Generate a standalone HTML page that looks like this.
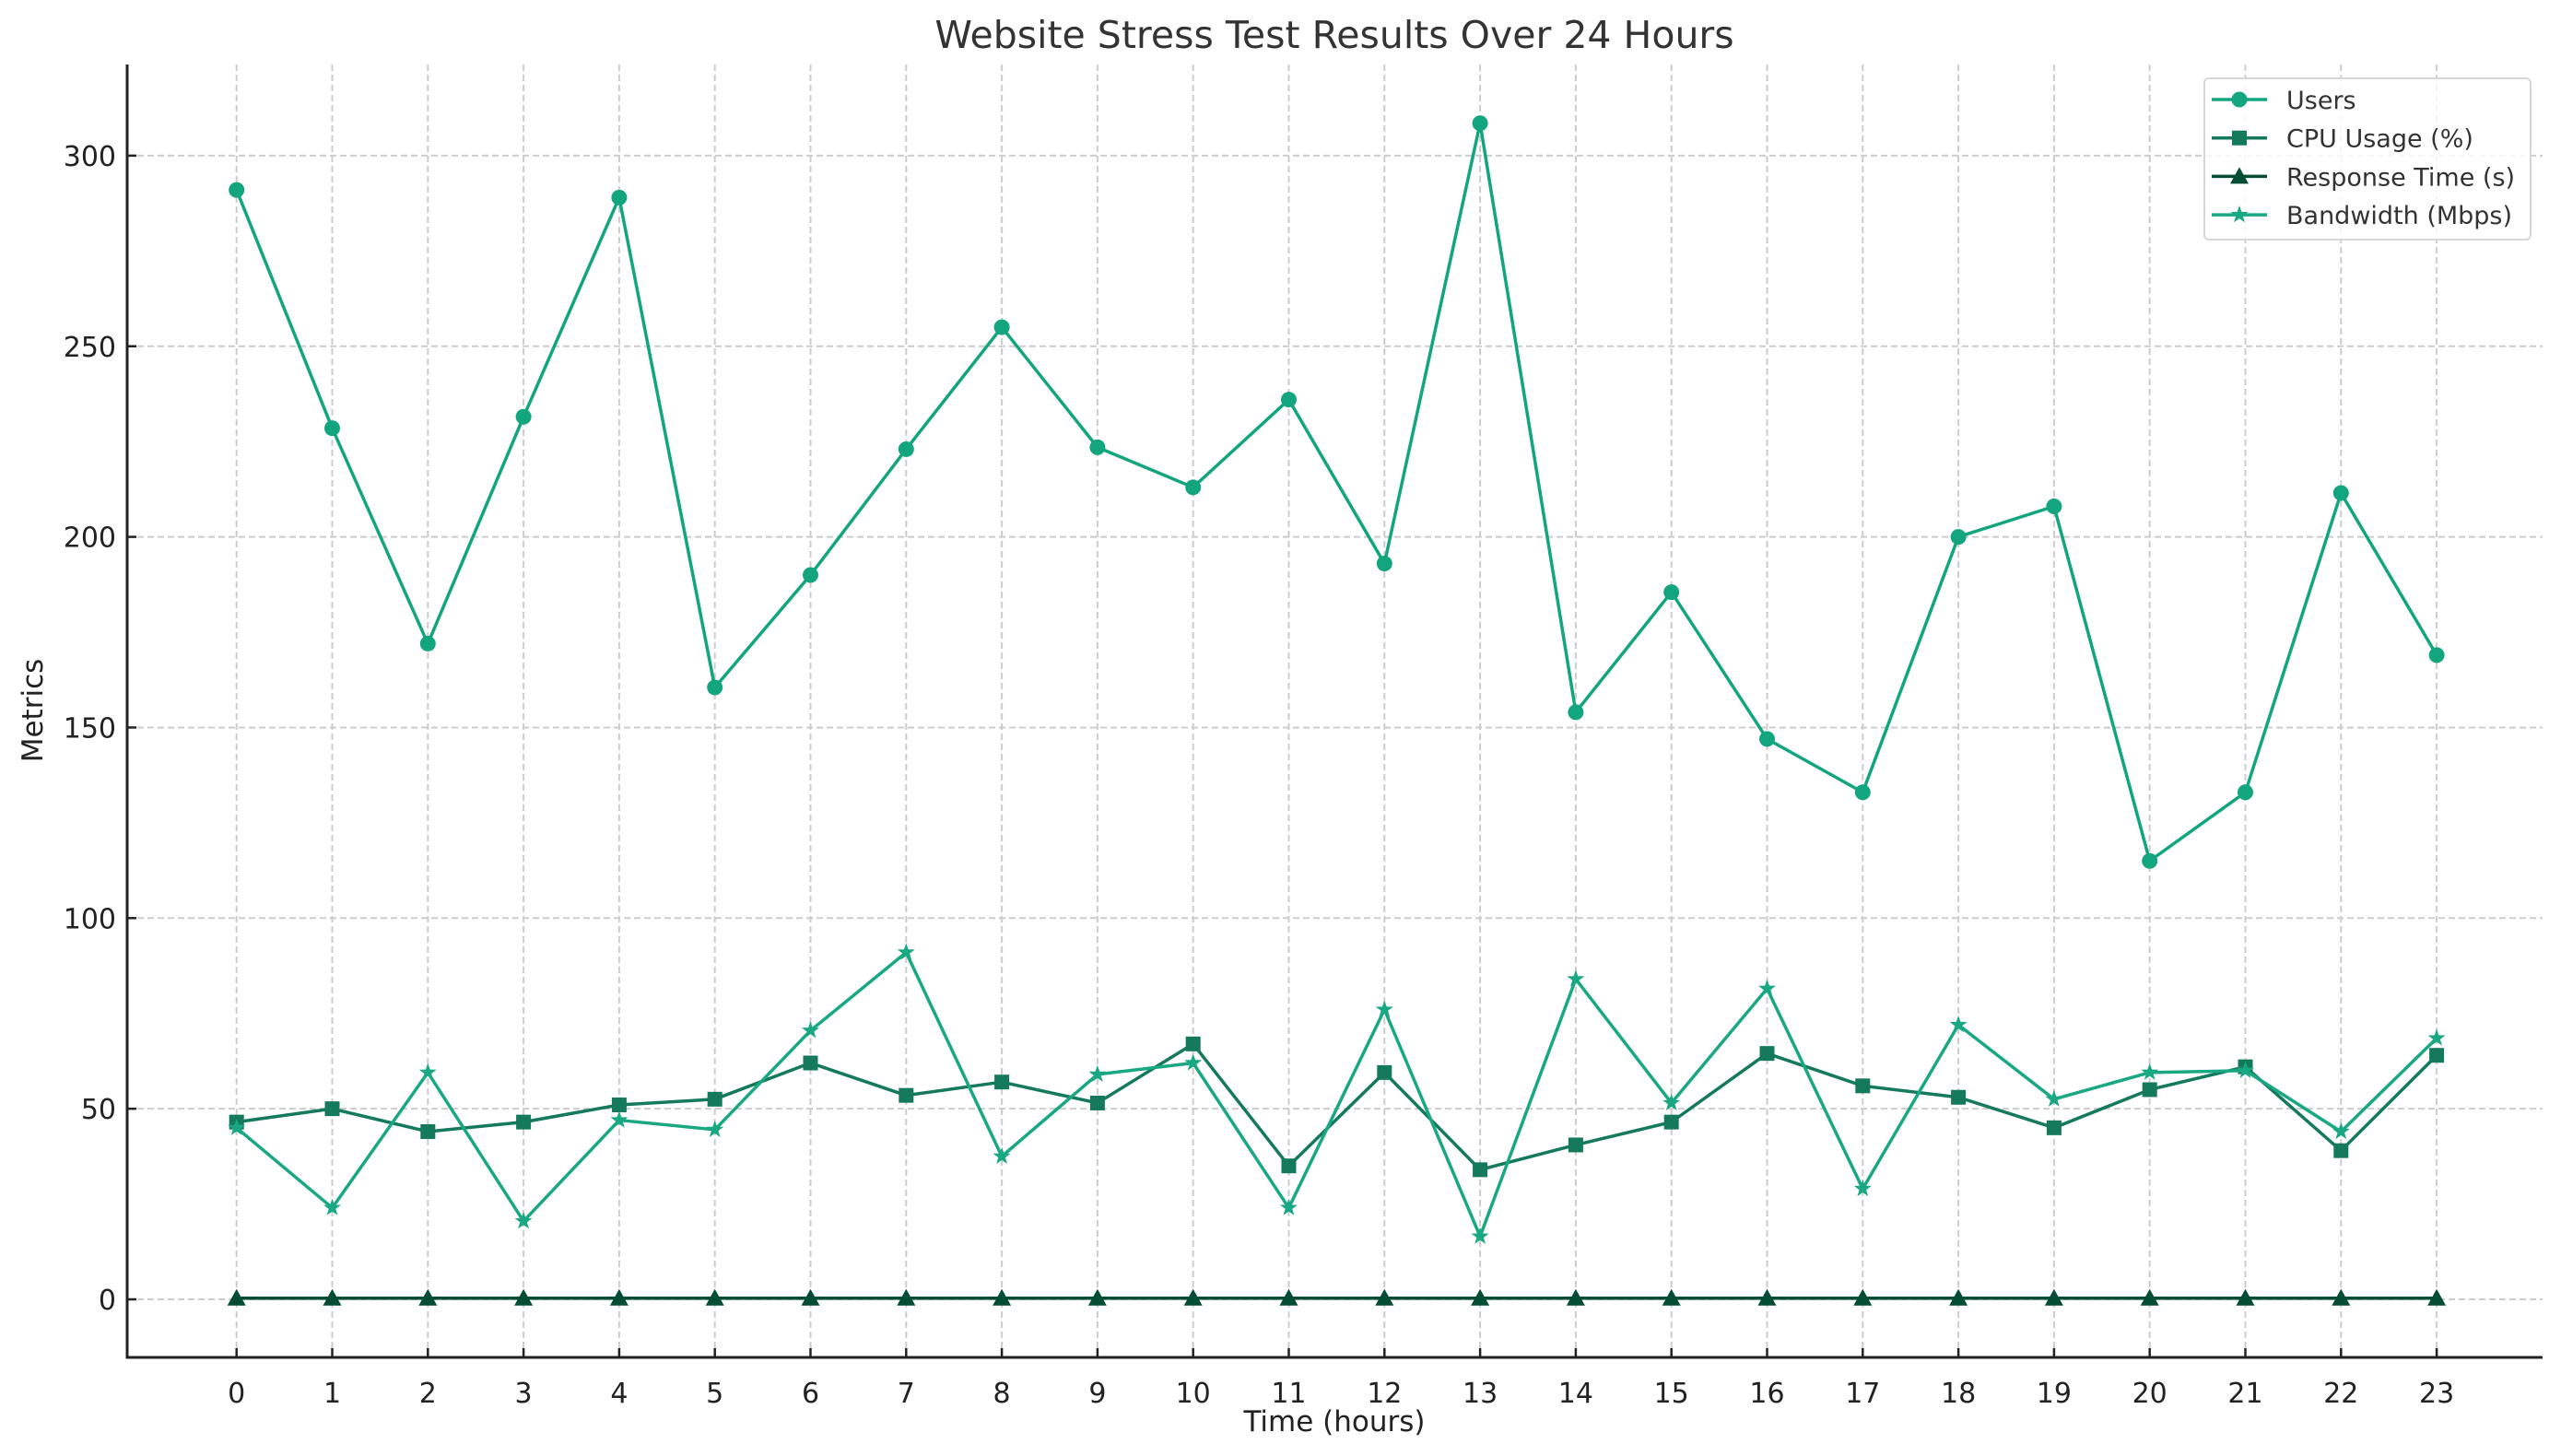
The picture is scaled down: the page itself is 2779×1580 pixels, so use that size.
<!DOCTYPE html>
<html><head><meta charset="utf-8"><style>
html,body{margin:0;padding:0;background:#fff;}
svg{display:block;font-family:"DejaVu Sans","Liberation Sans",sans-serif;}
</style></head><body>
<svg id="c" width="2779" height="1580" xmlns="http://www.w3.org/2000/svg"></svg>
<script>
const NS="http://www.w3.org/2000/svg",S=document.getElementById('c');
function el(t,a,txt){const e=document.createElementNS(NS,t);for(const k in a)e.setAttribute(k,a[k]);if(txt!==undefined)e.textContent=txt;S.appendChild(e);return e;}
const L=138,R=2759,T=70,B=1473;
const X=h=>256.7+h*103.8, Y=v=>1410-v*4.137;
for(let h=0;h<24;h++){el('line',{x1:X(h),x2:X(h),y1:T,y2:B,stroke:'#cccccc','stroke-width':2,'stroke-dasharray':'7,4'});}
for(let v=0;v<=300;v+=50){el('line',{x1:L,x2:R,y1:Y(v),y2:Y(v),stroke:'#cccccc','stroke-width':2,'stroke-dasharray':'7,4'});}
el('line',{x1:L,x2:L,y1:T,y2:B+1.5,stroke:'#222',"stroke-width":3});
el('line',{x1:L-1.5,x2:R,y1:B,y2:B,stroke:'#222',"stroke-width":3});
for(let h=0;h<24;h++){el('line',{x1:X(h),x2:X(h),y1:B,y2:B-10,stroke:'#222','stroke-width':2.5});
 el('text',{x:X(h),y:1522,'font-size':30,'text-anchor':'middle',fill:'#222'},String(h));}
for(let v=0;v<=300;v+=50){el('line',{x1:L,x2:L+10,y1:Y(v),y2:Y(v),stroke:'#222','stroke-width':2.5});
 el('text',{x:126,y:Y(v)+11,'font-size':30,'text-anchor':'end',fill:'#222'},String(v));}
el('text',{x:1448,y:52,'font-size':41,'text-anchor':'middle',fill:'#333'},'Website Stress Test Results Over 24 Hours');
el('text',{x:1448,y:1553,'font-size':31,'text-anchor':'middle',fill:'#222'},'Time (hours)');
el('text',{x:46,y:771,'font-size':31,'text-anchor':'middle',fill:'#222',transform:'rotate(-90 46 771)'},'Metrics');
const users=[291,228.5,172,231.5,289,160.5,190,223,255,223.5,213,236,193,308.5,154,185.5,147,133,200,208,115,133,211.5,169];
const cpu=[46.5,50,44,46.5,51,52.5,62,53.5,57,51.5,67,35,59.5,34,40.5,46.5,64.5,56,53,45,55,61,39,64];
const resp=users.map(()=>0.3);
const bw=[45,24,59.5,20.5,47,44.5,70.5,91,37.5,59,62,24,76,16.5,84,51.5,81.5,29,72,52.5,59.5,60,44,68.5];
function marker(type,x,y,c){
 if(type==='o')el('circle',{cx:x,cy:y,r:8.5,fill:c});
 else if(type==='s')el('rect',{x:x-8,y:y-8,width:16,height:16,fill:c});
 else if(type==='^')el('polygon',{points:`${x},${y-10} ${x+10},${y+8} ${x-10},${y+8}`,fill:c});
 else {let p=[];for(let i=0;i<10;i++){const r=i%2?4:10,a=-Math.PI/2+i*Math.PI/5;p.push((x+r*Math.cos(a)).toFixed(1)+','+(y+r*Math.sin(a)).toFixed(1));}el('polygon',{points:p.join(' '),fill:c});}
}
function series(d,c,m){el('polyline',{points:d.map((v,i)=>X(i)+','+Y(v)).join(' '),fill:'none',stroke:c,'stroke-width':3.5,'stroke-linejoin':'round'});d.forEach((v,i)=>marker(m,X(i),Y(v),c));}
const C1='#13a57e',C2='#15795c',C3='#034d35',C4='#19a883';
series(users,C1,'o');series(cpu,C2,'s');series(resp,C3,'^');series(bw,C4,'*');
el('rect',{x:2392,y:85,width:354,height:175,rx:5,fill:'#fff','fill-opacity':0.85,stroke:'#d6d6d6','stroke-width':2});
[['Users',C1,'o'],['CPU Usage (%)',C2,'s'],['Response Time (s)',C3,'^'],['Bandwidth (Mbps)',C4,'*']].forEach((e,i)=>{
 const y=108+i*41.7;
 el('line',{x1:2400,x2:2460,y1:y,y2:y,stroke:e[1],'stroke-width':3.5});
 marker(e[2],2430,y,e[1]);
 el('text',{x:2481,y:y+10,'font-size':27,fill:'#333'},e[0]);
});
</script>
</body></html>
